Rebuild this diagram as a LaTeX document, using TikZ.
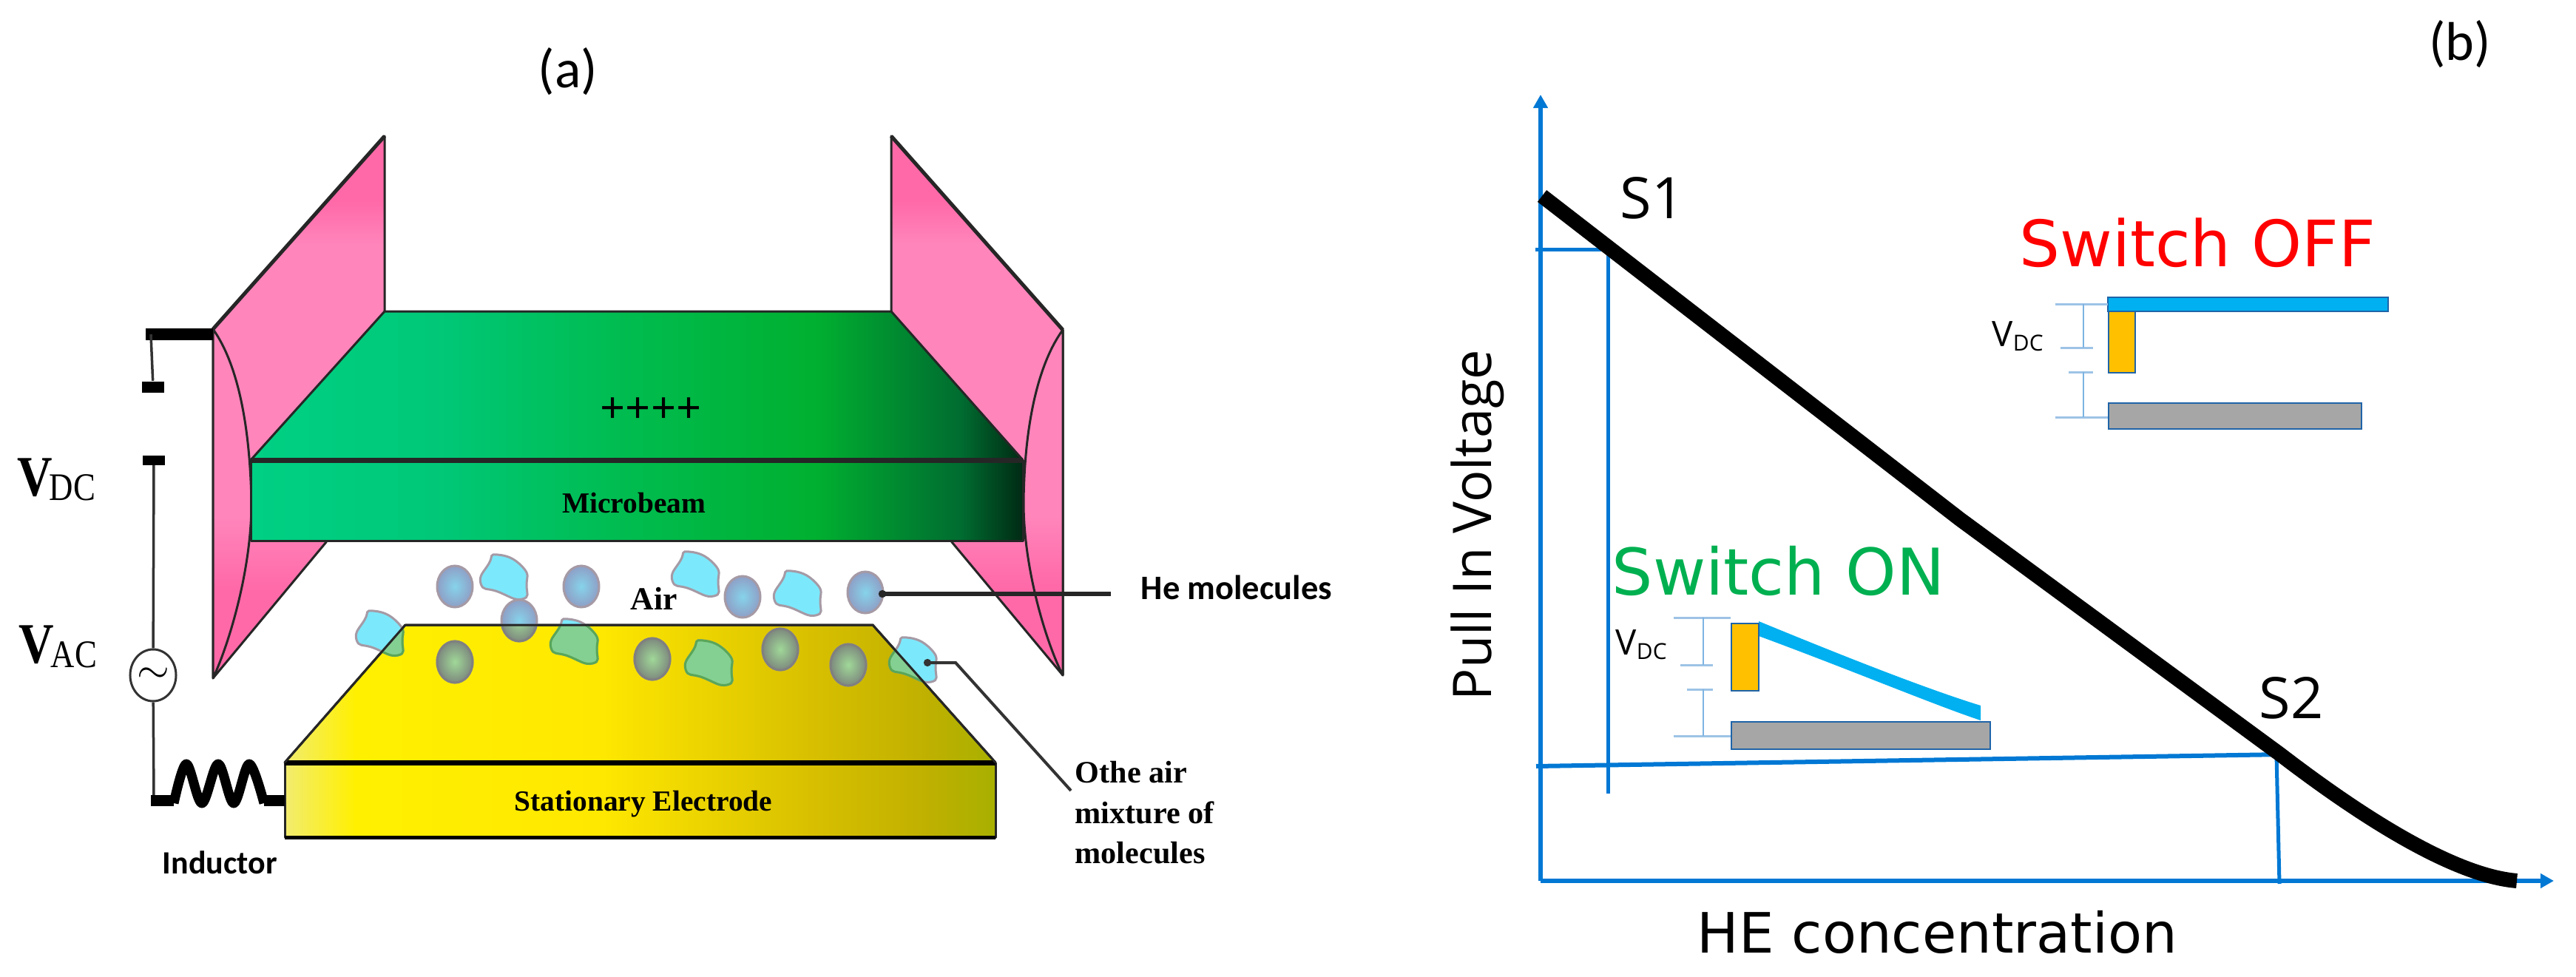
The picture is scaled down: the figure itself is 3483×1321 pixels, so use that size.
\documentclass[tikz,border=0pt]{standalone}
\usepackage{fontspec}
\usepackage{tikz}
\usetikzlibrary{arrows.meta,shapes.geometric}
\newfontfamily\lserif{Liberation Serif}
\newfontfamily\carlito{Carlito}
\newfontfamily\djv{DejaVu Sans}
\newfontfamily\osans{Open Sans}
\definecolor{greenA}{HTML}{00D084}
\definecolor{greenB}{HTML}{00C878}
\definecolor{greenC}{HTML}{00BC50}
\definecolor{greenD}{HTML}{00B030}
\definecolor{greenE}{HTML}{009030}
\definecolor{greenG}{HTML}{006C30}
\definecolor{greenF}{HTML}{002A14}
\definecolor{yellowA}{HTML}{F2EC70}
\definecolor{yellowB}{HTML}{FFF000}
\definecolor{yellowC}{HTML}{FFE800}
\definecolor{yellowD}{HTML}{D8C000}
\definecolor{yellowE}{HTML}{C0B000}
\definecolor{yellowF}{HTML}{A8B000}
\definecolor{pinkA}{HTML}{FF69A8}
\definecolor{pinkB}{HTML}{FF85BB}
\definecolor{axisblue}{HTML}{0078D4}
\definecolor{dimblue}{HTML}{9DC3E6}
\definecolor{edgeblue}{HTML}{1F64A8}
\definecolor{beamblue}{HTML}{00B0F0}
\definecolor{postyellow}{HTML}{FFC000}
\definecolor{padgrey}{HTML}{A6A6A6}
\definecolor{ongreen}{HTML}{00B050}
\definecolor{ballIn}{HTML}{86D3EA}
\definecolor{ballOut}{HTML}{8E9FC6}
\definecolor{ballInY}{HTML}{A0D898}
\definecolor{ballOutY}{HTML}{7E8A7E}
\definecolor{blobAir}{HTML}{7CE8FB}
\definecolor{blobY}{HTML}{84CF92}
\definecolor{molEdge}{HTML}{A59AA5}
\pgfdeclarehorizontalshading{greenfade}{100bp}{color(0bp)=(greenA);color(25bp)=(greenA);color(37bp)=(greenB);color(49bp)=(greenC);color(61.5bp)=(greenD);color(66bp)=(greenE);color(71bp)=(greenG);color(75bp)=(greenF);color(100bp)=(greenF)}
\pgfdeclarehorizontalshading{yellowfade}{100bp}{color(0bp)=(yellowA);color(25bp)=(yellowA);color(30bp)=(yellowB);color(47bp)=(yellowC);color(62bp)=(yellowD);color(70bp)=(yellowE);color(75bp)=(yellowF);color(100bp)=(yellowF)}
\pgfdeclareverticalshading{pinkback}{100bp}{color(0bp)=(pinkA);color(33bp)=(pinkA);color(40bp)=(pinkB);color(65bp)=(pinkB);color(69bp)=(pinkA);color(100bp)=(pinkA)}
\pgfdeclareverticalshading{pinkstrip}{100bp}{color(0bp)=(pinkA);color(38bp)=(pinkA);color(48bp)=(pinkB);color(100bp)=(pinkB)}
\tikzset{
  wall/.style={draw=black!85,line width=0.03cm,line join=round},
  wire/.style={draw=black!80,line width=0.035cm},
  thickwire/.style={draw=black,line width=0.15cm},
  plate/.style={fill=black,inner sep=0pt,minimum width=0.3cm,minimum height=0.15cm},
  ball/.style={inner color=ballIn,outer color=ballOut,draw=molEdge,line width=0.03cm},
  blob/.style={fill=blobAir,draw=molEdge,line width=0.03cm},
  axis/.style={draw=axisblue,line width=0.06cm,-{Triangle[length=0.18cm,width=0.19cm]}},
  guide/.style={draw=axisblue,line width=0.05cm},
  dimtick/.style={draw=dimblue,line width=0.03cm},
  dimline/.style={draw=dimblue!80!axisblue,line width=0.015cm},
  part/.style={draw=edgeblue,line width=0.025cm},
  lbl/.style={inner sep=0pt,anchor=base west}
}
\newcommand\volt[1]{\scalebox{0.85}[1]{{\bfseries\fontsize{22}{22}\selectfont V}\kern-1.5pt{\fontsize{15}{15}\selectfont\raisebox{-1.8pt}{#1}}}}
\newcommand\voltsmall{{\fontsize{13.5}{14}\selectfont V}{\fontsize{8.5}{9}\selectfont\raisebox{-1.8pt}{DC}}}
\newcommand\molecules{%
\foreach \mx/\my in {615/793,786/793,702/839,1004/807,1170/801,615/895,882/891,1055/878,1147/899}{
\draw[ball] (\mx,\my) ellipse [x radius=24,y radius=28];
}
\foreach \mx/\my in {681/781,940/777,1078/803,513/857,776/868,958/897,1234/893}{
\draw[blob,shift={(\mx,\my)}] plot[smooth cycle,tension=1] coordinates {(-8,-31) (25,-15) (31,10) (25,29) (-8,19) (-31,8) (-20,-19)};
}
}
\begin{document}
\begin{tikzpicture}[x=0.01cm,y=-0.01cm]
\useasboundingbox (0,0) rectangle (3483,1321);
\node[lbl,anchor=center] (labelA) at (768,97) {\carlito\fontsize{21}{21}\selectfont (a)};
\node[lbl,anchor=center] (labelB) at (3326,60) {\carlito\fontsize{21}{21}\selectfont (b)};

\shadedraw[wall,shading=pinkback] (520,184) -- (520,421) -- (441,733) -- (288,917) -- (288,445) -- cycle;
\shadedraw[wall,shading=pinkback] (1205,184) -- (1205,421) -- (1287,733) -- (1437,913) -- (1437,446) -- cycle;
\draw[wall,line width=0.05cm] (520,184) -- (288,445);
\draw[wall,line width=0.05cm] (1205,184) -- (1437,446);
\shadedraw[wall,shading=pinkstrip] (288,445) .. controls (320,490) and (338,570) .. (340,680) .. controls (340,770) and (310,870) .. (288,917) -- cycle;
\shadedraw[wall,shading=pinkstrip] (1437,446) .. controls (1405,490) and (1385,570) .. (1384,680) .. controls (1384,770) and (1415,870) .. (1437,913) -- cycle;

\shadedraw[wall,shading=greenfade] (520,421) -- (1205,421) -- (1383,622) -- (339,622) -- cycle;
\shadedraw[wall,shading=greenfade] (339,622) rectangle (1383,731);
\draw[draw=black!85,line width=0.07cm] (339,622) -- (1383,622);
\node[lbl,anchor=center] (plus) at (880,555) {\lserif\bfseries\fontsize{17}{17}\selectfont ++++};
\node[lbl,anchor=base] (beamText) at (857,693) {\lserif\bfseries\fontsize{11.2}{12}\selectfont Microbeam};

\shadedraw[wall,shading=yellowfade] (548,845) -- (1180,845) -- (1346,1031) -- (385,1031) -- cycle;
\shadedraw[wall,shading=yellowfade] (385,1031) rectangle (1346,1132);
\draw[draw=black,line width=0.07cm] (385,1031) -- (1346,1031);
\draw[draw=black,line width=0.05cm] (385,1132) -- (1346,1132);
\node[lbl,anchor=base] (electrodeText) at (870,1096) {\lserif\bfseries\fontsize{11.2}{12}\selectfont Stationary Electrode};

\molecules
\begin{scope}
\clip (548,845) -- (1180,845) -- (1346,1031) -- (385,1031) -- cycle;
\tikzset{ball/.style={inner color=ballInY,outer color=ballOutY,draw=gray,line width=0.03cm},
  blob/.style={fill=blobY,draw=gray!70!green,line width=0.03cm}}
\molecules
\end{scope}
\draw[wall] (548,845) -- (1180,845) -- (1346,1031);
\draw[wall] (548,845) -- (385,1031);
\node[lbl] (airText) at (852,824) {\lserif\bfseries\fontsize{12.4}{13}\selectfont Air};

\coordinate (wallCorner) at (288,452);
\coordinate (inductorIn) at (235,1082);
\coordinate (inductorOut) at (357,1082);
\coordinate (electrodeIn) at (385,1082);
\node[plate] (capTop) at (207,523) {};
\node[plate,minimum height=0.13cm] (capBottom) at (208,622) {};
\node[draw=black!80,fill=white,ellipse,line width=0.03cm,inner sep=0pt,minimum width=0.62cm,minimum height=0.7cm] (acSource) at (207,913) {\scalebox{1.6}{$\sim$}};
\draw[thickwire] (wallCorner) -- (197,452);
\draw[wire] (204,452) -- (capTop);
\draw[wire] (capBottom) -- (acSource);
\draw[wire] (acSource) -- (208,1082);
\draw[thickwire] (204,1082) -- (inductorIn);
\draw[line width=0.13cm,line join=round] plot[smooth,tension=0.55] coordinates {(235,1086) (252,1033) (273,1086) (295,1033) (316,1086) (337,1033) (357,1086)};
\draw[thickwire] (inductorOut) -- (electrodeIn);
\node[lbl] (vdcText) at (23,670) {\lserif\volt{DC}};
\node[lbl] (vacText) at (25,896) {\lserif\volt{AC}};
\node[lbl] (inductorText) at (219,1181) {\carlito\bfseries\fontsize{12.5}{12.5}\selectfont Inductor};

\coordinate (heDot) at (1188,803);
\coordinate (heEnd) at (1502,803);
\coordinate (otherDot) at (1249,896);
\coordinate (otherBend) at (1292,896);
\coordinate (otherEnd) at (1448,1069);
\draw[draw=black!85,line width=0.06cm,{Circle[length=0.1cm]}-] (heDot) -- (heEnd);
\draw[draw=black!80,line width=0.04cm,{Circle[length=0.1cm]}-] (otherDot) -- (otherBend) -- (otherEnd);
\node[lbl] (heText) at (1542,810) {\carlito\bfseries\fontsize{13.2}{14}\selectfont He molecules};
\node[inner sep=0pt,align=left,anchor=north west,font=\lserif\bfseries\fontsize{12}{15.4}\selectfont] (otherText) at (1453,1029) {Othe air\\mixture of\\molecules};

\coordinate (origin) at (2083,1191);
\coordinate (yTip) at (2083,128);
\coordinate (xTip) at (3453,1191);
\coordinate (s1Left) at (2076,337);
\coordinate (s1Pt) at (2178,337);
\coordinate (s1Drop) at (2174,1073);
\coordinate (s2Left) at (2077,1036);
\coordinate (s2Pt) at (3089,1020);
\coordinate (s2Top) at (3078,1020);
\coordinate (s2Drop) at (3082,1195);
\draw[axis] (origin) -- (yTip);
\draw[axis] (origin) -- (xTip);
\draw[guide] (s1Left) -- (s1Pt);
\draw[guide] (2174,337) -- (s1Drop);
\draw[guide,line width=0.06cm] (s2Left) -- (s2Pt);
\draw[guide] (s2Top) -- (s2Drop);
\draw[line width=0.2cm,line join=round] (2085,265) -- (2650,702) -- (3083,1020) .. controls (3220,1125) and (3330,1185) .. (3403,1191);
\node[lbl] (s1Text) at (2190,295) {\osans\fontsize{22}{22}\selectfont S1};
\node[lbl] (s2Text) at (3054,971) {\osans\fontsize{22}{22}\selectfont S2};
\node[lbl] (yText) at (1998,710) [anchor=center,rotate=90] {\osans\fontsize{20.5}{21}\selectfont Pull In Voltage};
\node[lbl] (xText) at (2294,1288) {\djv\fontsize{21.4}{22}\selectfont HE concentration};

\node[lbl,text=red] (offText) at (2730,360) {\djv\fontsize{24.6}{25}\selectfont Switch OFF};
\draw[part,fill=beamblue] (2850,402) rectangle (3229,421);
\draw[part,fill=postyellow] (2851,421) rectangle (2887,504);
\draw[part,fill=padgrey] (2851,545) rectangle (3193,580);
\draw[dimtick] (2779,411) -- (2850,411);
\draw[dimtick] (2786,470) -- (2830,470);
\draw[dimtick] (2797,503) -- (2830,503);
\draw[dimtick] (2779,564) -- (2850,564);
\draw[dimline] (2817,411) -- (2817,470);
\draw[dimline] (2817,503) -- (2817,564);
\node[lbl] (offVdc) at (2693,468) {\osans\voltsmall};

\node[lbl,text=ongreen] (onText) at (2179,804) {\djv\fontsize{24.8}{25}\selectfont Switch ON};
\fill[beamblue] (2378,840) .. controls (2480,882) and (2600,930) .. (2678,954) -- (2678,974) .. controls (2620,955) and (2500,905) .. (2378,860) -- cycle;
\draw[part,fill=postyellow] (2341,843) rectangle (2378,934);
\draw[part,fill=padgrey] (2341,976) rectangle (2691,1013);
\draw[dimtick] (2263,835) -- (2340,835);
\draw[dimtick] (2272,899) -- (2316,899);
\draw[dimtick] (2281,932) -- (2316,932);
\draw[dimtick] (2263,995) -- (2340,995);
\draw[dimline] (2303,835) -- (2303,899);
\draw[dimline] (2303,932) -- (2303,995);
\node[lbl] (onVdc) at (2184,885) {\osans\voltsmall};
\end{tikzpicture}
\end{document}
